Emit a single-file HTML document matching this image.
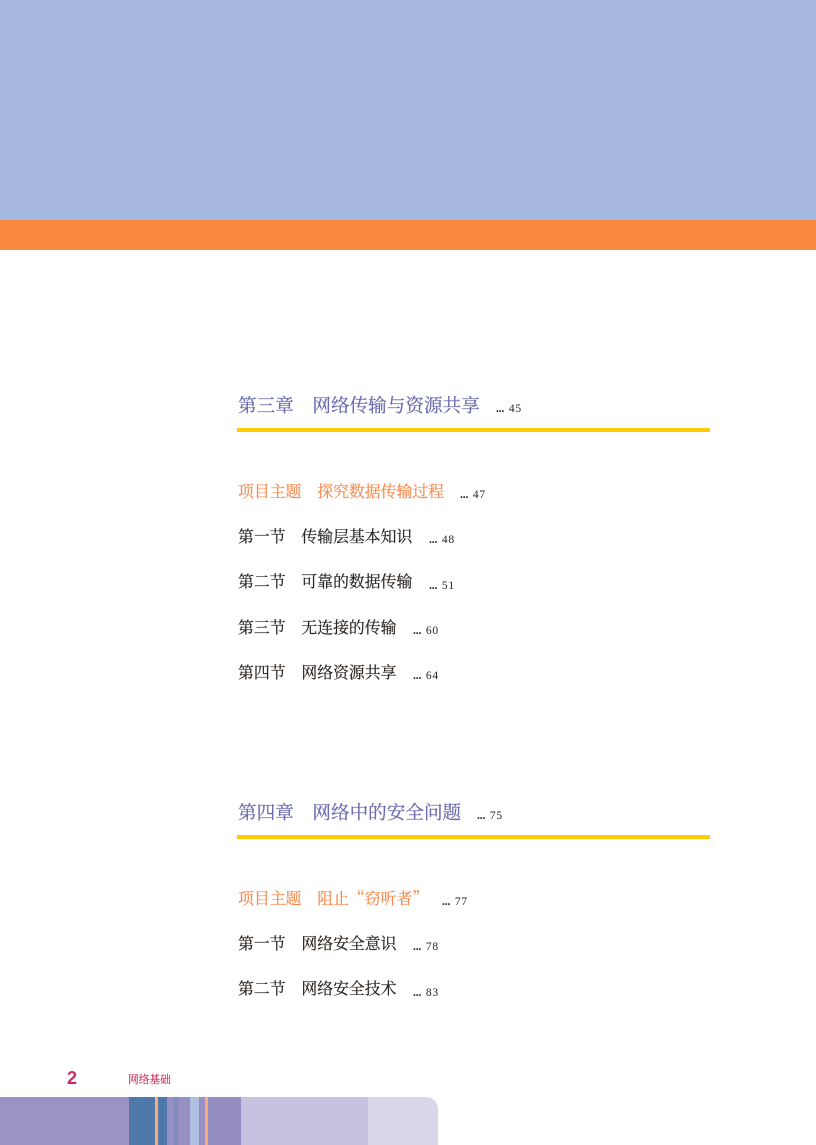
<!DOCTYPE html>
<html lang="zh">
<head>
<meta charset="utf-8">
<style>
html,body{margin:0;padding:0;background:#fff}
#p{position:relative;width:816px;height:1145px;overflow:hidden;background:#fff;font-family:"Noto Serif CJK SC","Liberation Serif",serif}
#p div{position:absolute}
.t{white-space:pre;line-height:24px;height:24px;-webkit-text-stroke:.2px currentColor}
.c{left:238px;font-size:18.6px;color:#6a68ae}
.o{left:238px;font-size:15.85px;color:#f98b4f}
.s{left:238px;font-size:15.85px;color:#2a2420}
.n{font-family:"Liberation Serif",serif;font-size:11.5px;color:#2a2018;line-height:14px;height:14px;white-space:pre;letter-spacing:.7px}
.n b{letter-spacing:-.1px;margin-right:1px}
.r{left:237px;width:473px;height:4px;background:#ffcb05}
</style>
</head>
<body>
<div id="p">
<div style="left:0;top:0;width:816px;height:220px;background:#a7b9e0"></div>
<div style="left:0;top:220px;width:816px;height:30px;background:#f98a40"></div>

<div class="t c" style="top:393px">第三章　网络传输与资源共享</div>
<div class="n" style="left:496px;top:402px"><b>...</b> 45</div>
<div class="r" style="top:428px"></div>

<div class="t o" style="top:479px">项目主题　探究数据传输过程</div>
<div class="n" style="left:460px;top:488px"><b>...</b> 47</div>
<div class="t s" style="top:524px">第一节　传输层基本知识</div>
<div class="n" style="left:429px;top:533px"><b>...</b> 48</div>
<div class="t s" style="top:569px">第二节　可靠的数据传输</div>
<div class="n" style="left:429px;top:579px"><b>...</b> 51</div>
<div class="t s" style="top:615px">第三节　无连接的传输</div>
<div class="n" style="left:413px;top:624px"><b>...</b> 60</div>
<div class="t s" style="top:660px">第四节　网络资源共享</div>
<div class="n" style="left:413px;top:669px"><b>...</b> 64</div>

<div class="t c" style="top:800px">第四章　网络中的安全问题</div>
<div class="n" style="left:477px;top:809px"><b>...</b> 75</div>
<div class="r" style="top:835px"></div>

<div class="t o" style="top:886px">项目主题　阻止“窃听者”</div>
<div class="n" style="left:442px;top:895px"><b>...</b> 77</div>
<div class="t s" style="top:931px">第一节　网络安全意识</div>
<div class="n" style="left:413px;top:940px"><b>...</b> 78</div>
<div class="t s" style="top:976px">第二节　网络安全技术</div>
<div class="n" style="left:413px;top:986px"><b>...</b> 83</div>

<div style="left:67px;top:1067px;font:bold 18px/22px 'Liberation Sans',sans-serif;color:#cf2a68">2</div>
<div style="left:128px;top:1073px;font-size:10.7px;line-height:14px;color:#c92f5f;white-space:pre;-webkit-text-stroke:.15px currentColor">网络基础</div>

<div style="left:0;top:1097px;width:438px;height:48px;overflow:hidden;border-top-right-radius:12px;background:#d9d8eb">
  <div style="left:0;top:0;width:129px;height:48px;background:#9c93c4"></div>
  <div style="left:129px;top:0;width:26px;height:48px;background:#5079ab"></div>
  <div style="left:155px;top:0;width:3px;height:48px;background:#fbaa78"></div>
  <div style="left:158px;top:0;width:9px;height:48px;background:#5079ab"></div>
  <div style="left:167px;top:0;width:7px;height:48px;background:#9690c4"></div>
  <div style="left:174px;top:0;width:4px;height:48px;background:#7d8cbf"></div>
  <div style="left:178px;top:0;width:12px;height:48px;background:#9690c4"></div>
  <div style="left:190px;top:0;width:9px;height:48px;background:#afc0e2"></div>
  <div style="left:199px;top:0;width:6px;height:48px;background:#9690c4"></div>
  <div style="left:205px;top:0;width:3px;height:48px;background:#fbaa78"></div>
  <div style="left:208px;top:0;width:33px;height:48px;background:#948ec3"></div>
  <div style="left:241px;top:0;width:127px;height:48px;background:#c6c3e0"></div>
</div>
</div>
</body>
</html>
